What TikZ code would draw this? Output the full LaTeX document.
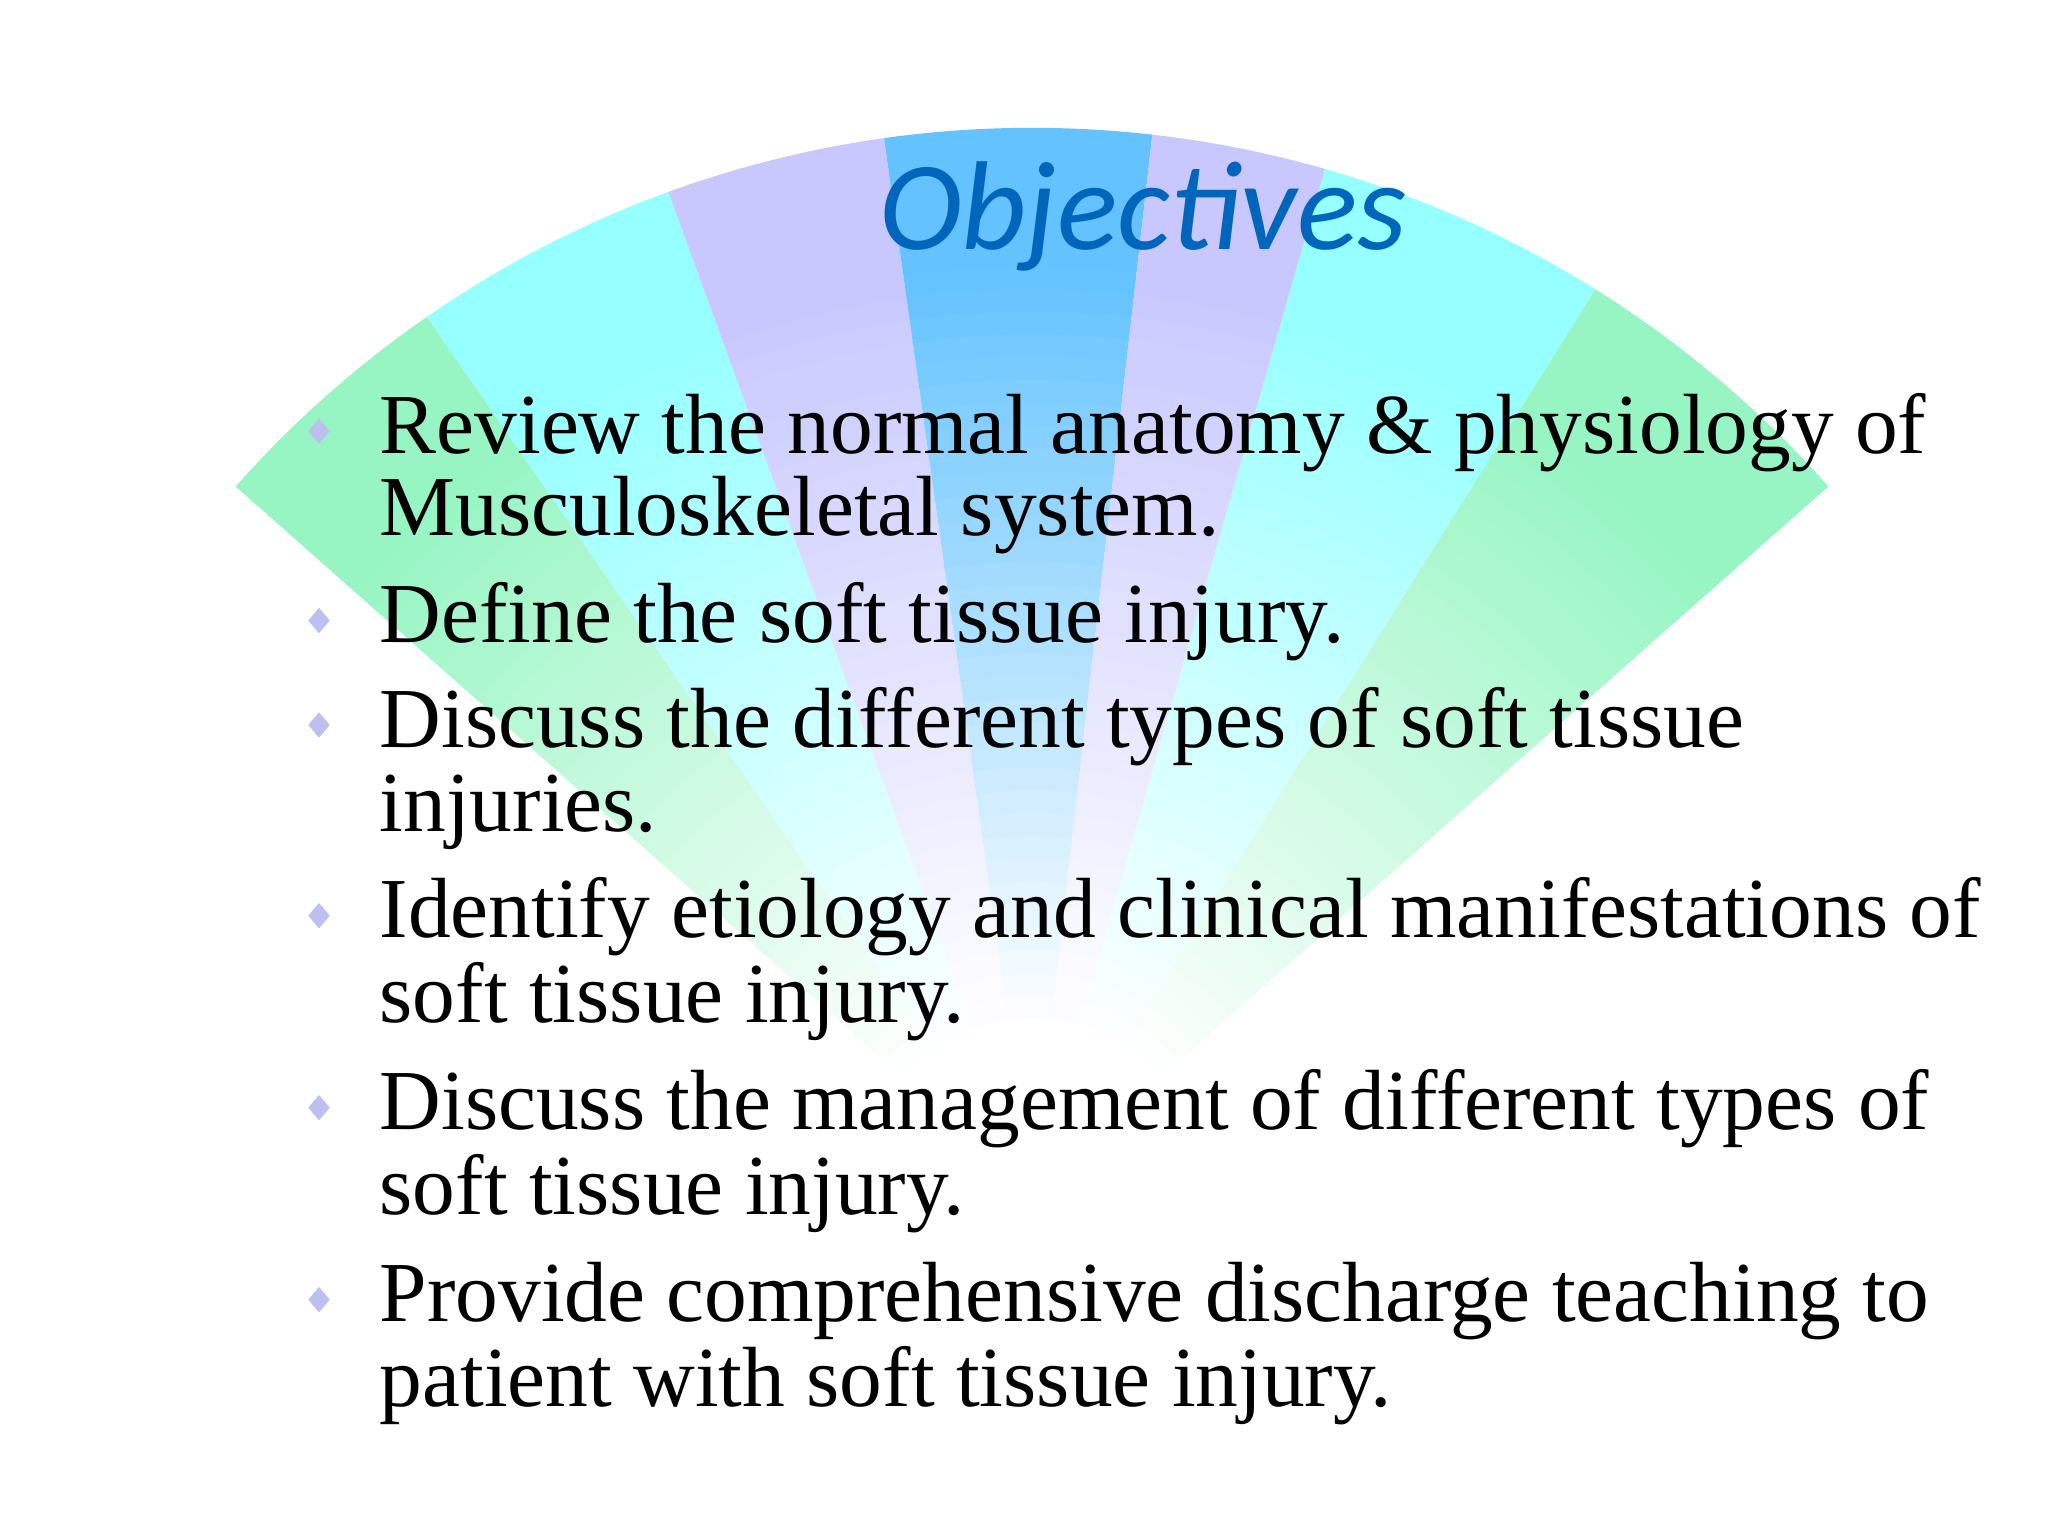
\documentclass[tikz,border=0pt]{standalone}
\usepackage{fontspec}
\setmainfont{Liberation Serif}
\newfontfamily\titlefont{Carlito}
\usetikzlibrary{shapes.geometric,calc}
\definecolor{fgreen}{RGB}{150,245,195}
\definecolor{fcyan}{RGB}{150,255,255}
\definecolor{flav}{RGB}{200,200,255}
\definecolor{fblue}{RGB}{100,195,255}
\definecolor{tblue}{RGB}{0,102,187}
\definecolor{bul}{RGB}{190,190,240}
\tikzset{line/.style={anchor=base west,inner sep=0pt,font=\fontsize{24.3}{28}\selectfont},
 bull/.style={diamond,fill=bul,inner sep=0pt,minimum width=0.22cm,minimum height=0.26cm}}
\begin{document}
\begin{tikzpicture}
\useasboundingbox (0,0) rectangle (20.48,15.36);
\fill[white] (0,0) rectangle (20.48,15.36);
\coordinate (apex) at (10.32,3.45);
\foreach \a/\b/\c in {138.5/124.7/fgreen,124.7/110/fcyan,110/98/flav,98/83.5/fblue,83.5/74/flav,74/58/fcyan,58/41.5/fgreen}{
  \foreach \i in {0,...,39}{
    \pgfmathsetmacro{\ra}{1.5+\i*0.228}
    \pgfmathsetmacro{\rb}{\ra+0.24}
    \pgfmathsetmacro{\p}{min(100,\i*3.0)}
    \fill[\c!\p!white] ($(apex)+(\a:\ra)$) arc[start angle=\a,end angle=\b,radius=\ra] -- ($(apex)+(\b:\rb)$) arc[start angle=\b,end angle=\a,radius=\rb] -- cycle;
  }
}
\node (title) at (11.43,13.2) {\titlefont\itshape\fontsize{36}{40}\selectfont\color{tblue}Objectives};
\def\X{3.79}
\node[line] (l1) at (\X,15.36-1.306*3.47) {Review the normal anatomy \& physiology of};
\node[line] (l2) at (\X,15.36-1.306*4.10) {Musculoskeletal system.};
\node[line] (l3) at (\X,15.36-1.306*4.92) {Define the soft tissue injury.};
\node[line] (l4) at (\X,15.36-1.306*5.72) {Discuss the different types of soft tissue};
\node[line] (l5) at (\X,15.36-1.306*6.37) {injuries.};
\node[line] (l6) at (\X,15.36-1.306*7.18) {Identify etiology and clinical manifestations of};
\node[line] (l7) at (\X,15.36-1.306*7.83) {soft tissue injury.};
\node[line] (l8) at (\X,15.36-1.306*8.65) {Discuss the management of different types of};
\node[line] (l9) at (\X,15.36-1.306*9.30) {soft tissue injury.};
\node[line] (l10) at (\X,15.36-1.306*10.12) {Provide comprehensive discharge teaching to};
\node[line] (l11) at (\X,15.36-1.306*10.77) {patient with soft tissue injury.};
\foreach \n in {l1,l3,l4,l6,l8,l10}{
  \node[bull] (b\n) at ([xshift=-0.6cm,yshift=0.22cm]\n.base west) {};
}
\end{tikzpicture}
\end{document}
